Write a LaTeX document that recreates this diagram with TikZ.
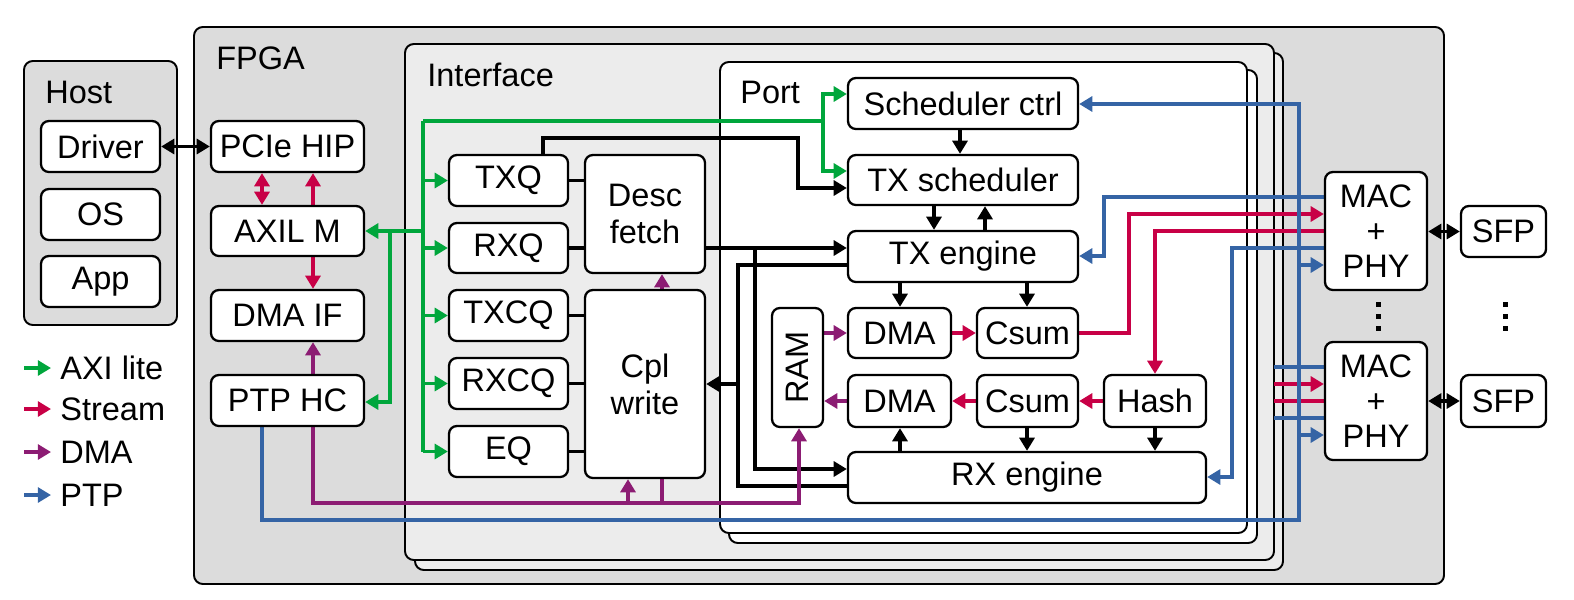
\documentclass[tikz,border=0pt]{standalone}
\usepackage{fontspec}
\setmainfont{Liberation Sans}
\usetikzlibrary{arrows.meta}
\pgfdeclarelayer{bg}\pgfdeclarelayer{mid}
\pgfsetlayers{bg,mid,main}
\definecolor{cg}{RGB}{0,166,60}
\definecolor{cr}{RGB}{200,0,70}
\definecolor{cp}{RGB}{140,28,115}
\definecolor{cb}{RGB}{53,100,165}
\definecolor{gA}{RGB}{220,220,220}
\definecolor{gB}{RGB}{236,236,236}
\newcommand\mkbox[6]{\node[box,minimum width={(#4-#2)*0.02cm},minimum height={(#5-#3)*0.02cm}] (#1) at ({(#2+#4)/2},{(#3+#5)/2}) {#6};}
\begin{document}
\begin{tikzpicture}[x=0.02cm,y=-0.02cm,
  box/.style={draw,line width=1.3pt,rounded corners=4.5pt,fill=white,inner sep=0pt,align=center,font=\fontsize{18.5}{21}\selectfont},
  cont/.style={draw,line width=1.1pt,rounded corners=5pt},
  lbl/.style={anchor=west,inner sep=0pt,font=\fontsize{18.5}{21}\selectfont},
  ln/.style={line width=1.9pt},
  arr/.style={ln,-{Triangle[length=7.5pt,width=8.5pt]}},
  darr/.style={ln,{Triangle[length=7.5pt,width=8.5pt]}-{Triangle[length=7.5pt,width=8.5pt]}}]
\useasboundingbox (0,0) rectangle (1574,599);
\begin{pgfonlayer}{bg}
\draw[cont,fill=gA] (24,61) rectangle (177,325);
\draw[cont,fill=gA] (194,27) rectangle (1444,584);
\draw[cont,fill=gB] (415,53) rectangle (1283,570);
\draw[cont,fill=gB] (405,44) rectangle (1274,560);
\draw[cont,fill=white] (729,70) rectangle (1257,543);
\draw[cont,fill=white] (720,62) rectangle (1247,533);
\end{pgfonlayer}
\node[lbl] (thost) at (45,92) {Host};
\node[lbl] (tfpga) at (216,58) {FPGA};
\node[lbl] (tif) at (427,75) {Interface};
\node[lbl] (tport) at (740,92) {Port};
% host
\mkbox{drv}{41}{121}{160}{172}{Driver}
\mkbox{os}{41}{189}{160}{240}{OS}
\mkbox{app}{41}{256}{160}{307}{App}
% fpga
\mkbox{pcie}{211}{121}{364}{172}{PCIe HIP}
\mkbox{axil}{211}{206}{364}{256}{AXIL M}
\mkbox{dmaif}{211}{290}{364}{341}{DMA IF}
\mkbox{ptp}{211}{375}{364}{426}{PTP HC}
% interface
\mkbox{txq}{449}{155}{568}{206}{TXQ}
\mkbox{rxq}{449}{223}{568}{273}{RXQ}
\mkbox{txcq}{449}{290}{568}{341}{TXCQ}
\mkbox{rxcq}{449}{358}{568}{409}{RXCQ}
\mkbox{eq}{449}{426}{568}{477}{EQ}
\mkbox{desc}{585}{155}{705}{273}{Desc\\fetch}
\mkbox{cpl}{585}{290}{705}{478}{Cpl\\write}
% port
\mkbox{sch}{848}{78}{1078}{129}{Scheduler ctrl}
\mkbox{txs}{848}{155}{1078}{205}{TX scheduler}
\mkbox{txe}{848}{231}{1078}{282}{TX engine}
\node[box,rotate=90,minimum width={119*0.02cm},minimum height={51*0.02cm}] (ram) at (797.5,367.5) {RAM};
\mkbox{dmat}{848}{308}{951}{358}{DMA}
\mkbox{csumt}{977}{308}{1078}{358}{Csum}
\mkbox{dmar}{848}{375}{951}{427}{DMA}
\mkbox{csumr}{977}{375}{1078}{427}{Csum}
\mkbox{hash}{1104}{375}{1206}{427}{Hash}
\mkbox{rxe}{848}{452}{1206}{503}{RX engine}
% mac / sfp
\node[box,minimum width={102*0.02cm},minimum height={118*0.02cm},font=\fontsize{18.5}{20}\selectfont] (mac1) at (1376,231) {MAC\\+\\PHY};
\node[box,minimum width={102*0.02cm},minimum height={118*0.02cm},font=\fontsize{18.5}{20}\selectfont] (mac2) at (1376,401) {MAC\\+\\PHY};
\mkbox{sfp1}{1461}{206}{1546}{257}{SFP}
\mkbox{sfp2}{1461}{375}{1546}{427}{SFP}
\foreach \xx in {1378,1505} \foreach \yy in {304,316,328}
  \fill (\xx-2.5,\yy-2.5) rectangle (\xx+2.5,\yy+2.5);
% legend
\coordinate (lg1) at (24,368); \coordinate (lg2) at (24,409);
\coordinate (lg3) at (24,452); \coordinate (lg4) at (24,495);
\draw[arr,cg] (lg1) -- ++(27,0); \node[lbl] (l1) at (60,368) {AXI lite};
\draw[arr,cr] (lg2) -- ++(27,0); \node[lbl] (l2) at (60,409) {Stream};
\draw[arr,cp] (lg3) -- ++(27,0); \node[lbl] (l3) at (60,452) {DMA};
\draw[arr,cb] (lg4) -- ++(27,0); \node[lbl] (l4) at (60,495) {PTP};
\begin{pgfonlayer}{mid}
% black
\draw[darr] (drv.east) -- (pcie.west);
\draw[darr] (mac1.east |- sfp1.west) -- (sfp1.west);
\draw[darr] (mac2.east |- sfp2.west) -- (sfp2.west);
\draw[arr] (txq.north -| 543,0) -- (543,138) -- (798,138) |- (txs.west |- 0,188);
\draw[ln] (txq.east) -- (desc.west |- txq.east);
\draw[ln] (rxq.east) -- (desc.west |- rxq.east);
\draw[ln] (txcq.east) -- (cpl.west |- txcq.east);
\draw[ln] (rxcq.east) -- (cpl.west |- rxcq.east);
\draw[ln] (eq.east) -- (cpl.west |- eq.east);
\draw[arr] (desc.east |- 0,248) -- (txe.west |- 0,248);
\draw[arr] (755,248) |- (rxe.west |- 0,469);
\draw[ln] (txe.west |- 0,265) -- (738,265) |- (rxe.west |- 0,486);
\draw[arr] (738,384) -- (cpl.east |- 0,384);
\draw[arr] (sch.south -| 960,0) -- (txs.north -| 960,0);
\draw[arr] (txs.south -| 934,0) -- (txe.north -| 934,0);
\draw[arr] (txe.north -| 985,0) -- (txs.south -| 985,0);
\draw[arr] (txe.south -| 900,0) -- (dmat.north -| 900,0);
\draw[arr] (txe.south -| 1027,0) -- (csumt.north -| 1027,0);
\draw[arr] (rxe.north -| 900,0) -- (dmar.south -| 900,0);
\draw[arr] (csumr.south -| 1027,0) -- (rxe.north -| 1027,0);
\draw[arr] (hash.south -| 1155,0) -- (rxe.north -| 1155,0);
% red
\draw[darr,cr] (pcie.south -| 262,0) -- (axil.north -| 262,0);
\draw[arr,cr] (axil.north -| 313,0) -- (pcie.south -| 313,0);
\draw[arr,cr] (axil.south -| 313,0) -- (dmaif.north -| 313,0);
\draw[arr,cr] (dmat.east) -- (csumt.west);
\draw[arr,cr] (csumr.west) -- (dmar.east);
\draw[arr,cr] (hash.west) -- (csumr.east);
\draw[arr,cr] (csumt.east |- 0,333) -- (1129,333) |- (mac1.west |- 0,214);
\draw[arr,cr] (mac1.west |- 0,231) -| (hash.north -| 1155,0);
\draw[arr,cr] (1274,384) -- (mac2.west |- 0,384);
\draw[ln,cr] (1274,401) -- (mac2.west |- 0,401);
% purple
\draw[arr,cp] (ram.south |- 0,333) -- (dmat.west);
\draw[arr,cp] (dmar.west) -- (ram.south |- 0,401);
\draw[arr,cp] (ptp.north -| 313,0) -- (dmaif.south -| 313,0);
\draw[arr,cp] (ptp.south -| 313,0) |- (799,503) -- (ram.west -| 799,0);
\draw[arr,cp] (628,503) -- (cpl.south -| 628,0);
\draw[arr,cp] (662,503) -- (desc.south -| 662,0);
% green
\draw[ln,cg] (423,121) -- (423,451.5);
\draw[ln,cg] (423,121) -- (823,121);
\draw[arr,cg] (823,121) |- (sch.west |- 0,94);
\draw[arr,cg] (823,121) |- (txs.west |- 0,171);
\draw[arr,cg] (423,231) -- (axil.east);
\draw[arr,cg] (390,231) |- (ptp.east |- 0,402);
\draw[arr,cg] (423,0 |- txq.west) -- (txq.west);
\draw[arr,cg] (423,0 |- rxq.west) -- (rxq.west);
\draw[arr,cg] (423,0 |- txcq.west) -- (txcq.west);
\draw[arr,cg] (423,0 |- rxcq.west) -- (rxcq.west);
\draw[arr,cg] (423,0 |- eq.west) -- (eq.west);
% blue
\draw[arr,cb] (ptp.south -| 262,0) |- (1299,520) |- (sch.east |- 0,104);
\draw[arr,cb] (1299,265) -- (mac1.west |- 0,265);
\draw[arr,cb] (1299,435) -- (mac2.west |- 0,435);
\draw[arr,cb] (mac1.west |- 0,197) -- (1104,197) |- (txe.east |- 0,256);
\draw[arr,cb] (mac1.west |- 0,248) -- (1232,248) |- (rxe.east |- 0,477);
\draw[ln,cb] (1274,367) -- (mac2.west |- 0,367);
\draw[ln,cb] (1274,418) -- (mac2.west |- 0,418);
\end{pgfonlayer}
\end{tikzpicture}
\end{document}
